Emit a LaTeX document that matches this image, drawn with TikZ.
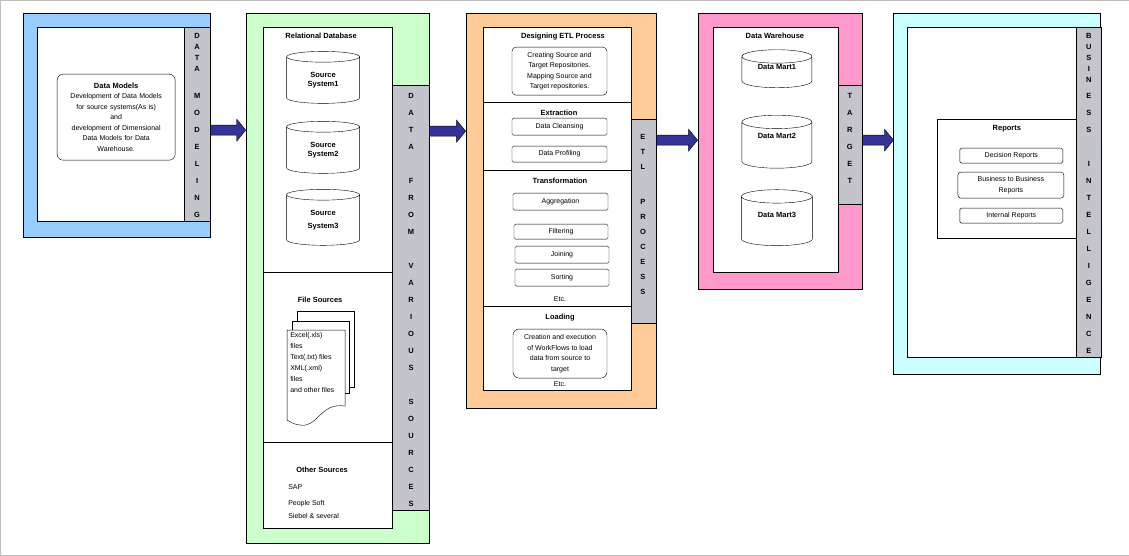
\documentclass[tikz,border=0pt]{standalone}
\usepackage{fontspec}
\setmainfont{Liberation Sans}
\usetikzlibrary{fit,shapes.geometric,arrows.meta,calc}
\definecolor{dmblue}{RGB}{153,204,255}
\definecolor{dsgreen}{RGB}{204,255,204}
\definecolor{etlorange}{RGB}{255,204,153}
\definecolor{tgpink}{RGB}{255,153,204}
\definecolor{bicyan}{RGB}{204,255,255}
\definecolor{bargray}{RGB}{196,196,204}
\definecolor{arrowblue}{RGB}{51,51,153}
\newcommand{\vword}[4]{\foreach \c [count=\i] in {#4} \node[letter] at (#1,{#2+#3*(\i-1)}) {\c};}
\begin{document}
\begin{tikzpicture}[x=1pt,y=-1pt,
box/.style={draw=black,inner sep=0pt},
panel/.style={box,line width=0.8pt},
bar/.style={box,fill=bargray},
letter/.style={font=\fontsize{7.5}{8}\selectfont\bfseries,inner sep=0pt},
title/.style={font=\fontsize{7.5}{8}\selectfont\bfseries,inner sep=0pt},
txt/.style={font=\fontsize{7}{8.5}\selectfont,inner sep=0pt,align=center},
item/.style={box,rounded corners=1.5pt,font=\fontsize{7}{8}\selectfont,align=center},
rbox/.style={box,rounded corners=6pt,font=\fontsize{7}{8.2}\selectfont,align=center},
db/.style={cylinder,shape border rotate=90,aspect=0.35,draw=black,font=\fontsize{7.5}{9}\selectfont\bfseries,align=center,inner sep=0pt},
bigarrow/.style={draw=black,fill=arrowblue,thin}
]
\draw[gray!50] (0,0) rectangle (1129,555);
\useasboundingbox (0,0) rectangle (1129,555);

% Data modeling
\node[panel,fill=dmblue,fit={(23,13)(210,237)}] (p1) {};
\node[box,fill=white,fit={(37,27)(184,221)}] (p1in) {};
\node[bar,fit={(184,27)(210,221)}] (p1bar) {};
\vword{197}{36}{11}{D,A,T,A}
\vword{197}{96}{17}{M,O,D,E,L,I,N,G}
\node[rbox,fit={(57,74)(175,160)}] (dmbox) {};
\node[txt,text width=118pt,font=\fontsize{7}{10.5}\selectfont] (dmtext) at (dmbox.center) {{\bfseries\fontsize{7.5}{9}\selectfont Data Models}\\Development of Data Models\\for source systems(As is)\\and\\development of Dimensional\\Data Models for Data\\Warehouse.};

% Data sources
\node[panel,fill=dsgreen,fit={(246,13)(429,543)}] (p2) {};
\node[box,fill=white,fit={(263,27)(392,528)}] (p2in) {};
\node[bar,fit={(392,85)(429,510)}] (p2bar) {};
\vword{411}{96}{17}{D,A,T,A,{},F,R,O,M,{},V,A,R,I,O,U,S,{},S,O,U,R,C,E,S}
\draw (263,272) -- (392,272);
\draw (263,442) -- (392,442);
\node[title] (reldb) at (321,36) {Relational Database};
\node[db,minimum width=73pt,minimum height=52pt] (src1) at (323,80) {Source\\System1};
\node[db,minimum width=73pt,minimum height=52pt] (src2) at (323,150) {Source\\System2};
\node[db,minimum width=73pt,minimum height=56pt] (src3) at (323,220) {Source\\[4pt]System3};
\node[title] (filesrc) at (320,300) {File Sources};
\draw[fill=white] (297,311) rectangle (354,387);
\draw[fill=white] (292,321) rectangle (349,393);
\draw[fill=white] (287,330) -- (345,330) -- (345,406) .. controls (320,402) and (318,428) .. (300,425) .. controls (294,424) .. (287,420) -- cycle;
\node[txt,align=left,anchor=north west,font=\fontsize{7}{11}\selectfont] (files) at (290,332) {Excel(.xls)\\files\\Text(.txt) files\\XML(.xml)\\files\\and other files};
\node[title] (othersrc) at (322,470) {Other Sources};
\node[txt,anchor=west] (sap) at (288,487) {SAP};
\node[txt,anchor=west] (ps) at (288,504) {People Soft};
\node[txt,anchor=west] (siebel) at (288,516) {Siebel \& several};

% ETL process
\node[panel,fill=etlorange,fit={(466,13)(656,408)}] (p3) {};
\node[box,fill=white,fit={(483,27)(631,390)}] (p3in) {};
\node[bar,fit={(631,119)(656,323)}] (p3bar) {};
\vword{643}{137}{15}{E,T,L}
\vword{643}{202}{15}{P,R,O,C,E,S,S}
\draw (483,102) -- (631,102);
\draw (483,170) -- (631,170);
\draw (483,306) -- (631,306);
\node[title] (design) at (563,36) {Designing ETL Process};
\node[rbox,rounded corners=4pt,fit={(512,47)(607,95)}] (designbox) {};
\node[txt,font=\fontsize{7}{10.5}\selectfont] at (designbox.center) {Creating Source and\\Target Repositories.\\Mapping Source and\\Target repositories.};
\node[title] (extract) at (559,113) {Extraction};
\node[item,fit={(512,118)(607,135)}] (clean) {};
\node[txt] at (clean.center) {Data Cleansing};
\node[item,fit={(512,146)(607,162)}] (profile) {};
\node[txt] at (profile.center) {Data Profiling};
\node[title] (transform) at (560,181) {Transformation};
\node[item,fit={(513,193)(608,210)}] (aggr) {};
\node[txt] at (aggr.center) {Aggregation};
\node[item,fit={(514,224)(608,239)}] (filter) {};
\node[txt] at (filter.center) {Filtering};
\node[item,fit={(515,246)(609,263)}] (join) {};
\node[txt] at (join.center) {Joining};
\node[item,fit={(515,269)(609,286)}] (sort) {};
\node[txt] at (sort.center) {Sorting};
\node[txt] (etc1) at (560,299) {Etc.};
\node[title] (load) at (560,317) {Loading};
\node[rbox,fit={(513,329)(607,378)}] (loadbox) {};
\node[txt,font=\fontsize{7}{10.5}\selectfont] at (loadbox.center) {Creation and execution\\of WorkFlows to load\\data from source to\\target};
\node[txt] (etc2) at (560,384) {Etc.};

% Target
\node[panel,fill=tgpink,fit={(698,13)(862,289)}] (p4) {};
\node[box,fill=white,fit={(713,27)(838,272)}] (p4in) {};
\node[bar,fit={(838,85)(862,204)}] (p4bar) {};
\vword{850}{96}{17}{T,A,R,G,E,T}
\node[title] (dw) at (775,36) {Data Warehouse};
\node[db,minimum width=70pt,minimum height=38pt] (dm1) at (777,72) {Data Mart1\\[2pt]};
\node[db,minimum width=70pt,minimum height=53pt] (dm2) at (777,145) {Data Mart2\\[10pt]};
\node[db,minimum width=71pt,minimum height=56pt] (dm3) at (777,221) {Data Mart3\\[4pt]};

% Business intelligence
\node[panel,fill=bicyan,fit={(894,13)(1101,374)}] (p5) {};
\node[box,fill=white,fit={(907,27)(1076,357)}] (p5in) {};
\node[bar,fit={(1076,27)(1101,357)}] (p5bar) {};
\vword{1089}{36}{11}{B,U,S,I,N}
\vword{1089}{96}{17}{E,S,S,{},I,N,T,E,L,L,I,G,E,N,C,E}
\node[box,fit={(937,119)(1076,238)}] (reports) {};
\node[title] (reptitle) at (1007,129) {Reports};
\node[item,fit={(960,148)(1063,163)}] (decision) {};
\node[txt] at (decision.center) {Decision Reports};
\node[item,rounded corners=3pt,fit={(958,172)(1064,198)}] (b2b) {};
\node[txt,font=\fontsize{7}{10.5}\selectfont] at (b2b.center) {Business to Business\\Reports};
\node[item,fit={(960,208)(1063,223)}] (internal) {};
\node[txt] at (internal.center) {Internal Reports};

% arrows between panels
\foreach \a/\b/\y in {p1/p2/130,p2/p3/131,p3/p4/140,p4/p5/140}{
  \coordinate (ay) at (0,\y);
  \path (\a.east |- ay) coordinate (s) (\b.west |- ay) coordinate (t);
  \draw[bigarrow] ($(s)+(0,-5)$) -- ($(t)+(-9,-5)$) -- ($(t)+(-9,-11)$) -- (t) -- ($(t)+(-9,11)$) -- ($(t)+(-9,5)$) -- ($(s)+(0,5)$) -- cycle;
}
\end{tikzpicture}
\end{document}
